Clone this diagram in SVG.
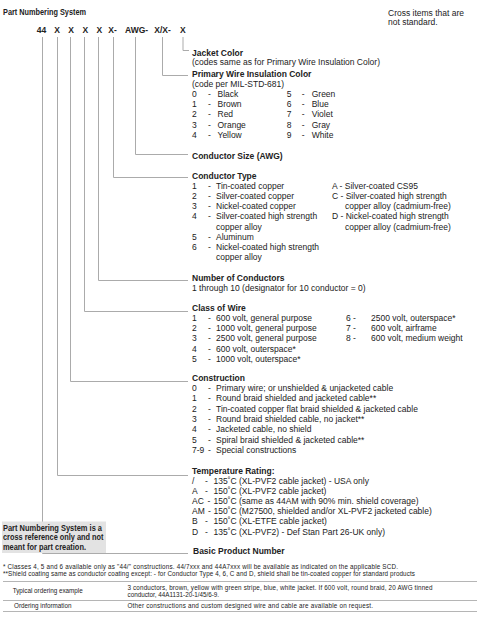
<svg xmlns="http://www.w3.org/2000/svg" width="480" height="618" viewBox="0 0 480 618">
<style>
text{font-family:"Liberation Sans",Arial,Helvetica,sans-serif;font-size:8.5px;fill:#222}
.b{font-weight:bold}
.n{font-family:"Liberation Sans Narrow","Liberation Sans",Arial,sans-serif;font-weight:bold}
.f{font-size:6.3px}
.ln{stroke:#ababab;stroke-width:1;fill:none}
.rule{stroke:#b5b5b5;stroke-width:1}
</style>
<rect width="480" height="618" fill="#fff"/>
<g id="title">
<text class="n" x="3" y="14.5" textLength="83" lengthAdjust="spacingAndGlyphs">Part Numbering System</text>
</g>
<g id="note-top">
<text x="388" y="15.5">Cross items that are</text>
<text x="388" y="24.5">not standard.</text>
</g>
<g id="code">
<text class="b" x="36.7" y="33.3">44</text>
<text class="b" x="54.3" y="33.3">X</text>
<text class="b" x="68.3" y="33.3">X</text>
<text class="b" x="82.5" y="33.3">X</text>
<text class="b" x="96.5" y="33.3">X</text>
<text class="b" x="108.3" y="33.3">X-</text>
<text class="b" x="125" y="33.3">AWG-</text>
<text class="b" x="154.3" y="33.3">X/X-</text>
<text class="b" x="180" y="33.3">X</text>
</g>
<g id="connectors" class="ln">
<path d="M42.5 37V553.5H188"/>
<path d="M57.5 37V475.5H188"/>
<path d="M70.5 37V381.5H188"/>
<path d="M84.5 37V311.5H188"/>
<path d="M98.5 37V280.5H188"/>
<path d="M113.5 37V177.5H188"/>
<path d="M135.5 37V154.5H188"/>
<path d="M162.5 37V75.5H188"/>
<path d="M183 37V50.5H189"/>
</g>
<g id="jacket-color">
<text class="b" x="192" y="55.5">Jacket Color</text>
<text x="192" y="65.3">(codes same as for Primary Wire Insulation Color)</text>
</g>
<g id="insulation-color">
<text class="b" x="192" y="77.3">Primary Wire Insulation Color</text>
<text x="192" y="87">(code per MIL-STD-681)</text>
<text x="192" y="97">0</text><text x="208" y="97">-</text><text x="217.5" y="97">Black</text>
<text x="192" y="107.2">1</text><text x="208" y="107.2">-</text><text x="217.5" y="107.2">Brown</text>
<text x="192" y="117.4">2</text><text x="208" y="117.4">-</text><text x="217.5" y="117.4">Red</text>
<text x="192" y="127.6">3</text><text x="208" y="127.6">-</text><text x="217.5" y="127.6">Orange</text>
<text x="192" y="137.8">4</text><text x="208" y="137.8">-</text><text x="217.5" y="137.8">Yellow</text>
<text x="286.7" y="97">5</text><text x="301.7" y="97">-</text><text x="311.7" y="97">Green</text>
<text x="286.7" y="107.2">6</text><text x="301.7" y="107.2">-</text><text x="311.7" y="107.2">Blue</text>
<text x="286.7" y="117.4">7</text><text x="301.7" y="117.4">-</text><text x="311.7" y="117.4">Violet</text>
<text x="286.7" y="127.6">8</text><text x="301.7" y="127.6">-</text><text x="311.7" y="127.6">Gray</text>
<text x="286.7" y="137.8">9</text><text x="301.7" y="137.8">-</text><text x="311.7" y="137.8">White</text>
</g>
<g id="conductor-size">
<text class="b" x="192" y="159">Conductor Size (AWG)</text>
</g>
<g id="conductor-type">
<text class="b" x="192" y="179">Conductor Type</text>
<text x="192" y="188.8">1</text><text x="208" y="188.8">-</text><text x="216" y="188.8">Tin-coated copper</text>
<text x="192" y="199">2</text><text x="208" y="199">-</text><text x="216" y="199">Silver-coated copper</text>
<text x="192" y="209.2">3</text><text x="208" y="209.2">-</text><text x="216" y="209.2">Nickel-coated copper</text>
<text x="192" y="219.4">4</text><text x="208" y="219.4">-</text><text x="216" y="219.4">Silver-coated high strength</text>
<text x="216" y="229.6">copper alloy</text>
<text x="192" y="239.8">5</text><text x="208" y="239.8">-</text><text x="216" y="239.8">Aluminum</text>
<text x="192" y="250">6</text><text x="208" y="250">-</text><text x="216" y="250">Nickel-coated high strength</text>
<text x="216" y="260.2">copper alloy</text>
<text x="332" y="188.8">A - Silver-coated CS95</text>
<text x="332" y="199">C - Silver-coated high strength</text>
<text x="345" y="209.2">copper alloy (cadmium-free)</text>
<text x="332" y="219.4">D - Nickel-coated high strength</text>
<text x="345" y="229.6">copper alloy (cadmium-free)</text>
</g>
<g id="number-of-conductors">
<text class="b" x="192" y="280.5">Number of Conductors</text>
<text x="192" y="291">1 through 10 (designator for 10 conductor = 0)</text>
</g>
<g id="class-of-wire">
<text class="b" x="192" y="311.2">Class of Wire</text>
<text x="192" y="321">1</text><text x="208" y="321">-</text><text x="216" y="321">600 volt, general purpose</text>
<text x="192" y="331.2">2</text><text x="208" y="331.2">-</text><text x="216" y="331.2">1000 volt, general purpose</text>
<text x="192" y="341.4">3</text><text x="208" y="341.4">-</text><text x="216" y="341.4">2500 volt, general purpose</text>
<text x="192" y="351.6">4</text><text x="208" y="351.6">-</text><text x="216" y="351.6">600 volt, outerspace*</text>
<text x="192" y="361.8">5</text><text x="208" y="361.8">-</text><text x="216" y="361.8">1000 volt, outerspace*</text>
<text x="346" y="321">6 -</text><text x="371" y="321">2500 volt, outerspace*</text>
<text x="346" y="331.2">7 -</text><text x="371" y="331.2">600 volt, airframe</text>
<text x="346" y="341.4">8 -</text><text x="371" y="341.4">600 volt, medium weight</text>
</g>
<g id="construction">
<text class="b" x="192" y="380.7">Construction</text>
<text x="192" y="391">0</text><text x="208" y="391">-</text><text x="216" y="391">Primary wire; or unshielded &amp; unjacketed cable</text>
<text x="192" y="401.3">1</text><text x="208" y="401.3">-</text><text x="216" y="401.3">Round braid shielded and jacketed cable**</text>
<text x="192" y="411.6">2</text><text x="208" y="411.6">-</text><text x="216" y="411.6">Tin-coated copper flat braid shielded &amp; jacketed cable</text>
<text x="192" y="421.9">3</text><text x="208" y="421.9">-</text><text x="216" y="421.9">Round braid shielded cable, no jacket**</text>
<text x="192" y="432.2">4</text><text x="208" y="432.2">-</text><text x="216" y="432.2">Jacketed cable, no shield</text>
<text x="192" y="442.5">5</text><text x="208" y="442.5">-</text><text x="216" y="442.5">Spiral braid shielded &amp; jacketed cable**</text>
<text x="192" y="452.8">7-9</text><text x="208" y="452.8">-</text><text x="216" y="452.8">Special constructions</text>
</g>
<g id="temperature-rating">
<text class="b" x="192" y="474">Temperature Rating:</text>
<text x="192" y="483.6">/</text><text x="205" y="483.6">-</text><text x="213.5" y="483.6">135˚C (XL-PVF2 cable jacket) - USA only</text>
<text x="192" y="493.8">A</text><text x="205" y="493.8">-</text><text x="213.5" y="493.8">150˚C (XL-PVF2 cable jacket)</text>
<text x="192" y="504">AC</text><text x="207.5" y="504">-</text><text x="213.5" y="504">150˚C (same as 44AM with 90% min. shield coverage)</text>
<text x="192" y="514.2">AM</text><text x="208" y="514.2">-</text><text x="213.5" y="514.2">150˚C (M27500, shielded and/or XL-PVF2 jacketed cable)</text>
<text x="192" y="524.4">B</text><text x="205" y="524.4">-</text><text x="213.5" y="524.4">150˚C (XL-ETFE cable jacket)</text>
<text x="192" y="534.6">D</text><text x="205" y="534.6">-</text><text x="213.5" y="534.6">135˚C (XL-PVF2) - Def Stan Part 26-UK only)</text>
</g>
<g id="basic-product-number">
<text class="b" x="193" y="553.5">Basic Product Number</text>
</g>
<g id="note-box">
<rect x="2" y="521.5" width="104" height="31.5" fill="#e3e3e3"/>
<text class="n" x="3" y="530.5" textLength="99" lengthAdjust="spacingAndGlyphs">Part Numbering System is a</text>
<text class="n" x="3" y="540" textLength="100.5" lengthAdjust="spacingAndGlyphs">cross reference only and not</text>
<text class="n" x="3" y="549.5" textLength="83" lengthAdjust="spacingAndGlyphs">meant for part creation.</text>
</g>
<g id="footnotes">
<text class="f" x="3" y="569" textLength="395" lengthAdjust="spacing">* Classes 4, 5 and 6 available only as "44/" constructions. 44/7xxx and 44A7xxx will be available as indicated on the applicable SCD.</text>
<text class="f" x="3" y="576" textLength="412" lengthAdjust="spacing">**Shield coating same as conductor coating except: - for Conductor Type 4, 6, C and D, shield shall be tin-coated copper for standard products</text>
</g>
<g id="ordering-table">
<line class="rule" x1="3" y1="581.5" x2="477" y2="581.5"/>
<line class="rule" x1="3" y1="600.5" x2="477" y2="600.5"/>
<line class="rule" x1="3" y1="611.5" x2="477" y2="611.5"/>
<text class="f" x="12.7" y="593">Typical ordering example</text>
<text class="f" x="127.5" y="589.5" textLength="305" lengthAdjust="spacing">3 conductors, brown, yellow with green stripe, blue, white jacket. If 600 volt, round braid, 20 AWG tinned</text>
<text class="f" x="127.5" y="596.5">conductor, 44A1131-20-1/45/6-9.</text>
<text class="f" x="14" y="608">Ordering information</text>
<text class="f" x="127.5" y="608" textLength="245.5" lengthAdjust="spacing">Other constructions and custom designed wire and cable are available on request.</text>
</g>
</svg>
